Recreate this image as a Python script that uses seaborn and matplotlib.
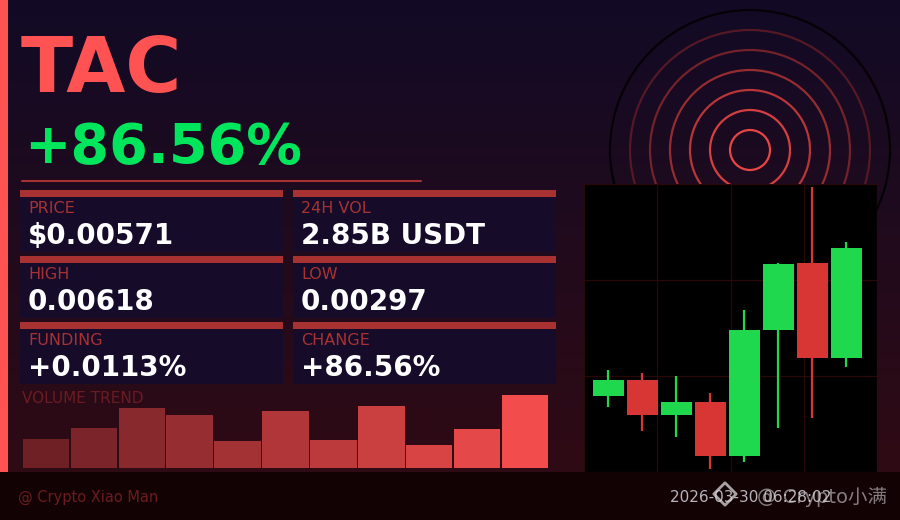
import numpy as np
import pandas as pd
import matplotlib
matplotlib.use('Agg')
import matplotlib.pyplot as plt
import matplotlib.colors as mcolors
from matplotlib.patches import Rectangle, Circle
import seaborn as sns

# データ ######################################################
symbol = 'TAC'
change_text = '+86.56%'
card_labels = ['PRICE', '24H VOL', 'HIGH', 'LOW', 'FUNDING', 'CHANGE']
card_values = ['$0.00571', '2.85B USDT', '0.00618', '0.00297', '+0.0113%', '+86.56%']

volume = [29, 40, 60, 53, 27, 57, 28, 62, 23, 39, 73]

candle_open = [0.00380, 0.00399, 0.00359, 0.00373, 0.00312, 0.00455, 0.00531, 0.00423]
candle_high = [0.00410, 0.00406, 0.00403, 0.00384, 0.00478, 0.00531, 0.00618, 0.00555]
candle_low = [0.00368, 0.00341, 0.00334, 0.00297, 0.00305, 0.00344, 0.00355, 0.00413]
candle_close = [0.00399, 0.00359, 0.00373, 0.00312, 0.00455, 0.00530, 0.00423, 0.00548]

footer_left = '@ Crypto Xiao Man'
timestamp = '2026-03-30 06:28:02'
watermark = '@ Crypto小满'
###############################################################

sns.set_theme(style='dark')
plt.rcParams['font.family'] = ['DejaVu Sans', 'Noto Sans CJK SC']

W, H = 900, 520
RED = '#ff5252'
CARD_RED = '#a83232'
GREEN = '#00e65c'
UP = '#1fd84e'
DOWN = '#d83535'

fig = plt.figure(figsize=(9, 5.2), dpi=100)


def px_rect(x0, y0, x1, y1):
    # ピクセル座標 -> figure座標
    return [x0 / W, 1 - y1 / H, (x1 - x0) / W, (y1 - y0) / H]


# 背景レイヤー
bg = fig.add_axes([0, 0, 1, 1])
top = np.array(mcolors.to_rgb('#120a26'))
bot = np.array(mcolors.to_rgb('#2f0b14'))
t = np.linspace(0, 1, 256)[:, None, None]
bg.imshow(top + (bot - top) * t, extent=(0, W, 472, 0), aspect='auto', zorder=0)

# 同心円
ring_colors = ['#e84545', '#d63f40', '#b83638', '#952d30', '#732229', '#541924', '#050205']
for i, rc in enumerate(ring_colors):
    bg.add_patch(Circle((750, 150), 20 * (i + 1), fill=False, ec=rc, lw=1.6, zorder=1))

bg.add_patch(Rectangle((0, 472), W, 48, color='#130204', lw=0, zorder=2))
bg.add_patch(Rectangle((0, 0), 8, 472, color=RED, lw=0, zorder=2))
bg.plot([22, 421], [181, 181], color=CARD_RED, lw=1.5, zorder=2)

# カード
for k, (lab, val) in enumerate(zip(card_labels, card_values)):
    col, row = k % 2, k // 2
    x0 = [20, 293][col]
    y0 = 190 + 66 * row
    bg.add_patch(Rectangle((x0, y0), 263, 7, color=CARD_RED, lw=0, zorder=2))
    bg.add_patch(Rectangle((x0, y0 + 7), 263, 55, color='#160c2a', lw=0, zorder=2))
    bg.text(x0 + 8, y0 + 23, lab, color=CARD_RED, fontsize=11.5, va='baseline', zorder=3)
    bg.text(x0 + 8, y0 + 54, val, color='white', fontsize=20, fontweight='bold',
            va='baseline', zorder=3)

bg.text(21, 92, symbol, color=RED, fontsize=55, fontweight='bold', va='baseline')
bg.text(24, 163, change_text, color=GREEN, fontsize=40, fontweight='bold', va='baseline')
bg.text(22, 403, 'VOLUME TREND', color='#6a1c22', fontsize=11, va='baseline')

bg.text(18, 502, footer_left, color='#6b1c1f', fontsize=10.5, va='baseline')
bg.text(670, 502, timestamp, color='#b8b4bc', fontsize=11, va='baseline')
bg.scatter([725], [494], marker='D', s=130, facecolor='none', edgecolor='#d8d8d8',
           linewidths=2, alpha=0.75, zorder=4)
bg.text(757, 503, watermark, color='#d0d0d0', alpha=0.6, fontsize=14, va='baseline',
        family=['DejaVu Sans', 'Noto Sans CJK SC'])

bg.set_xlim(0, W)
bg.set_ylim(H, 0)
bg.axis('off')

# 出来高バー
vax = fig.add_axes(px_rect(22, 395, 549, 468))
vol_df = pd.DataFrame({'bar': [str(i) for i in range(len(volume))], 'volume': volume})
lo = np.array(mcolors.to_rgb('#6e2025'))
hi = np.array(mcolors.to_rgb('#f24c4c'))
vol_colors = [tuple(lo + (hi - lo) * f) for f in np.linspace(0, 1, len(volume))]
sns.barplot(data=vol_df, x='bar', y='volume', hue='bar', palette=vol_colors,
            legend=False, width=0.97, saturation=1, linewidth=0, ax=vax)
vax.set_xlim(-0.5, len(volume) - 0.5)
vax.set_ylim(0, max(volume))
vax.axis('off')
vax.patch.set_alpha(0)

# ローソク足
cax = fig.add_axes(px_rect(584, 184, 877, 472))
cax.set_facecolor('black')
xs = np.arange(len(candle_open))
o = np.array(candle_open)
c = np.array(candle_close)
cols = [UP if cc >= oo else DOWN for oo, cc in zip(o, c)]
cax.vlines(xs, candle_low, candle_high, colors=cols, lw=1.6, zorder=2)
cax.bar(xs, np.abs(c - o), bottom=np.minimum(o, c), width=0.91, color=cols,
        linewidth=0, zorder=3)
cax.set_xlim(-0.71, 7.9)
cax.set_ylim(0.00294, 0.00621)
cax.set_xticks(np.linspace(-0.71, 7.9, 5))
cax.set_yticks(np.linspace(0.00294, 0.00621, 4))
cax.grid(True, color='#2a0808', lw=0.9)
cax.tick_params(left=False, bottom=False, labelleft=False, labelbottom=False)
for s in cax.spines.values():
    s.set_visible(False)

fig.savefig('out.png', dpi=100, facecolor=fig.get_facecolor())
